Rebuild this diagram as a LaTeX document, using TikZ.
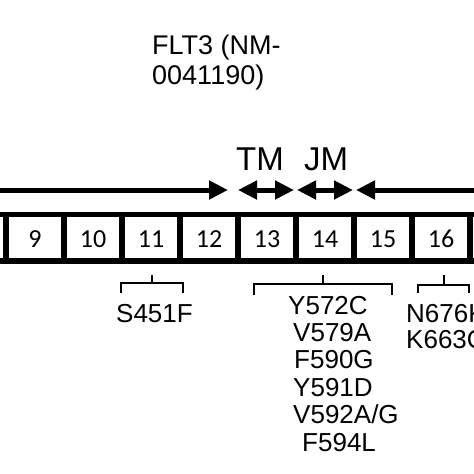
\documentclass[tikz,border=0pt]{standalone}
\usepackage{fontspec}
\setmainfont{Liberation Sans}
\newfontfamily\numfont{Carlito}
\usetikzlibrary{arrows.meta}
\tikzset{
  exon/.style={draw=black, line width=5.5pt, minimum width=58pt, minimum height=46.5pt, inner sep=0pt},
  exnum/.style={anchor=base, inner sep=0pt, font=\numfont\fontsize{26}{30}\selectfont},
  domarrow/.style={line width=5pt, -{Triangle[length=19pt,width=18pt]}},
  dblarrow/.style={line width=5pt, {Triangle[length=19pt,width=18pt]}-{Triangle[length=19pt,width=18pt]}},
  domlabel/.style={anchor=base, inner sep=0pt, font=\fontsize{33}{38}\selectfont},
  mut/.style={anchor=base west, inner sep=0pt, font=\fontsize{26}{30}\selectfont},
  brack/.style={line width=2.5pt}
}
\begin{document}
\begin{tikzpicture}[x=1pt,y=-1pt]
\useasboundingbox (0,0) rectangle (474,474);
\clip (0,0) rectangle (474,474);
\fill[white] (0,0) rectangle (474,474);

% title
\node[anchor=base west, inner sep=0pt, font=\fontsize{27}{30}\selectfont] (title1) at (152,54) {FLT3 (NM-};
\node[anchor=base west, inner sep=0pt, font=\fontsize{27}{30}\selectfont] (title2) at (152,84) {0041190)};

% domain labels
\node[domlabel] (tm) at (260,170) {TM};
\node[domlabel] (jm) at (326,170) {JM};

% domain arrows
\coordinate (la) at (-10,190);
\coordinate (lb) at (228,190);
\coordinate (tma) at (238,190);
\coordinate (tmb) at (294,190);
\coordinate (jma) at (297,190);
\coordinate (jmb) at (353,190);
\coordinate (ra) at (490,190);
\coordinate (rb) at (356,190);
\draw[domarrow] (la) -- (lb);
\draw[dblarrow] (tma) -- (tmb);
\draw[dblarrow] (jma) -- (jmb);
\draw[domarrow] (ra) -- (rb);

% exons
\foreach \k in {8,...,17}{
  \pgfmathsetmacro{\cx}{35+58*(\k-9)}
  \node[exon] (e\k) at (\cx,237.75) {};
}
\foreach \k in {9,...,16}{
  \pgfmathsetmacro{\cx}{35+58*(\k-9)}
  \node[exnum] (n\k) at (\cx,247) {\k};
}

% brackets
\coordinate (b11t) at (152,275);
\draw[brack] (121,293) |- (183,283) -- (183,293);
\draw[brack] (b11t) -- (152,283);
\coordinate (b14t) at (323,275);
\draw[brack] (254,295) |- (392,284) -- (392,295);
\draw[brack] (b14t) -- (323,284);
\coordinate (b16t) at (444,275);
\draw[brack] (418,293) |- (469,285) -- (469,293);
\draw[brack] (b16t) -- (444,285);

% mutations
\node[mut] (m1) at (116,322) {S451F};
\node[mut] (m2) at (288,314) {Y572C};
\node[mut] (m3) at (293,341.4) {V579A};
\node[mut] (m4) at (294,368.8) {F590G};
\node[mut] (m5) at (293,396.2) {Y591D};
\node[mut] (m6) at (293,423.6) {V592A/G};
\node[mut] (m7) at (302,451) {F594L};
\node[mut] (m8) at (406,322) {N676K};
\node[mut] (m9) at (406,348) {K663Q};
\end{tikzpicture}
\end{document}
